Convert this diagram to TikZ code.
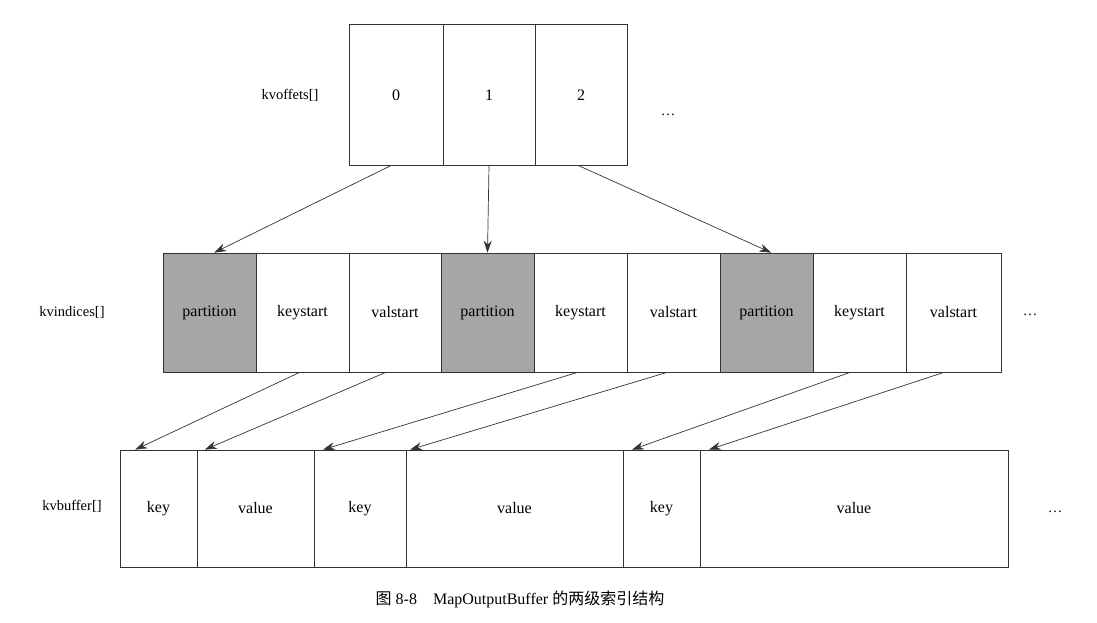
\documentclass[tikz,border=0pt]{standalone}
\usepackage{fontspec}
\setmainfont{Liberation Serif}
\newfontfamily\cjk{Noto Sans CJK SC}
\usetikzlibrary{calc,arrows.meta}
\begin{document}
\begin{tikzpicture}[x=1pt,y=-1pt,
  cell/.style={draw=black!80,line width=0.7pt,fill=white,inner sep=0pt,font=\fontsize{16}{19}\selectfont},
  gcell/.style={cell,fill=black!35},
  lbl/.style={font=\fontsize{14.5}{17}\selectfont,inner sep=0pt},
  arr/.style={-{Stealth[length=12pt,width=8pt]},line width=0.7pt,draw=black!80}]
\useasboundingbox (0,0) rectangle (1097,622);
% top row
\foreach \n/\a/\b/\t in {o0/349/443/0,o1/443/535/1,o2/535/627/2}{
  \node[cell,minimum width={\b-\a},minimum height=141] (\n) at ({(\a+\b)/2},95) {\t};}
\node[lbl] (lo) at (290,95) {kvoffets[]};
\node[lbl] (do) at (668,115) {\dots};
% middle row
\foreach \n/\a/\b/\t/\s in {m0/163/256/partition/gcell,m1/256/349/keystart/cell,m2/349/441/valstart/cell,
  m3/441/534/partition/gcell,m4/534/627/keystart/cell,m5/627/720/valstart/cell,
  m6/720/813/partition/gcell,m7/813/906/keystart/cell,m8/906/1001/valstart/cell}{
  \node[\s,minimum width={\b-\a},minimum height=119] (\n) at ({(\a+\b)/2},312.5) {\t};}
\node[lbl] (lm) at (72,312) {kvindices[]};
\node[lbl] (dm) at (1030,315) {\dots};
% bottom row
\foreach \n/\a/\b/\t in {b0/120/197/key,b1/197/314/value,b2/314/406/key,b3/406/623/value,b4/623/700/key,b5/700/1008/value}{
  \node[cell,minimum width={\b-\a},minimum height=117] (\n) at ({(\a+\b)/2},508.5) {\t};}
\node[lbl] (lb) at (72,506) {kvbuffer[]};
\node[lbl] (db) at (1055,512) {\dots};
% arrows top -> middle
\draw[arr] ($(o0.south west)!0.44!(o0.south east)$) -- ($(m0.north west)!0.55!(m0.north east)$);
\draw[arr] ($(o1.south west)!0.5!(o1.south east)$) -- ($(m3.north west)!0.5!(m3.north east)$);
\draw[arr] ($(o2.south west)!0.48!(o2.south east)$) -- ($(m6.north west)!0.55!(m6.north east)$);
% arrows middle -> bottom
\draw[arr] ($(m1.south west)!0.47!(m1.south east)$) -- ($(b0.north west)!0.2!(b0.north east)$);
\draw[arr] ($(m2.south west)!0.4!(m2.south east)$) -- ($(b1.north west)!0.07!(b1.north east)$);
\draw[arr] ($(m4.south west)!0.47!(m4.south east)$) -- ($(b2.north west)!0.1!(b2.north east)$);
\draw[arr] ($(m5.south west)!0.43!(m5.south east)$) -- ($(b3.north west)!0.02!(b3.north east)$);
\draw[arr] ($(m7.south west)!0.4!(m7.south east)$) -- ($(b4.north west)!0.12!(b4.north east)$);
\draw[arr] ($(m8.south west)!0.4!(m8.south east)$) -- ($(b5.north west)!0.03!(b5.north east)$);
% caption
\node[font=\fontsize{16}{19}\selectfont] (cap) at (520,599) {{\cjk 图} 8-8\quad MapOutputBuffer {\cjk 的两级索引结构}};
\end{tikzpicture}
\end{document}
